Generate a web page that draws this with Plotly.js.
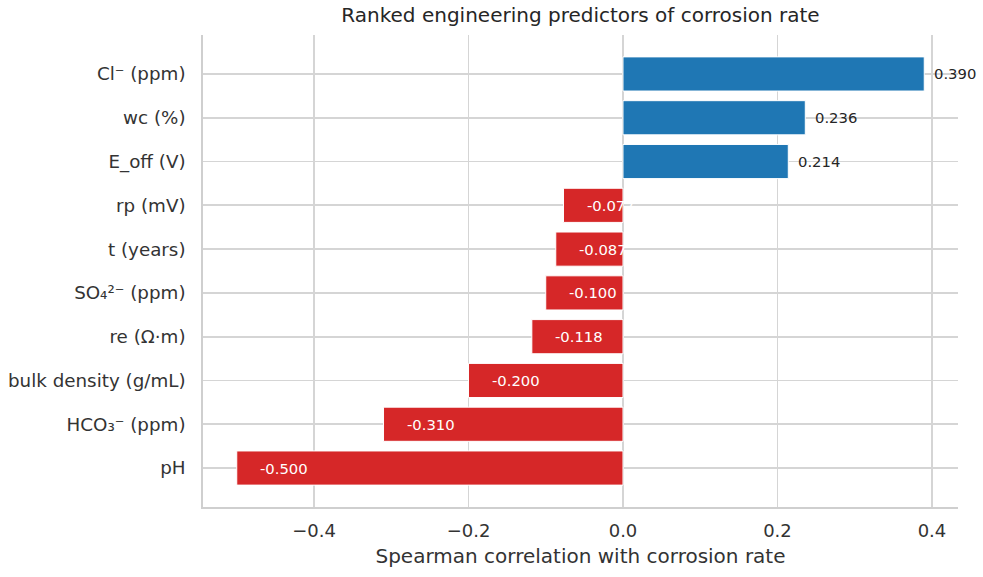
<!DOCTYPE html>
<html>
<head>
<meta charset="utf-8">
<script src="https://cdn.plot.ly/plotly-3.0.1.min.js"></script>
<style>html,body{margin:0;padding:0;background:#fff;}#chart{width:983px;height:577px;}</style>
</head>
<body>
<div id="chart"></div>
<script>
// Bottom-to-top order (pH at bottom)
const predictors = ["pH", "HCO₃⁻ (ppm)", "bulk density (g/mL)", "re (Ω·m)", "SO₄²⁻ (ppm)", "t (years)", "rp (mV)", "E_off (V)", "wc (%)", "Cl⁻ (ppm)"];
const correlations = [-0.500, -0.310, -0.200, -0.118, -0.100, -0.087, -0.077, 0.214, 0.236, 0.390];
const xTickVals = [-0.4, -0.2, 0.0, 0.2, 0.4];
const xTickText = ["−0.4", "−0.2", "0.0", "0.2", "0.4"];

const colors = correlations.map(v => v >= 0 ? "#1f77b4" : "#d62728");
const FONT = "DejaVu Sans, sans-serif";

const trace = {
  type: "bar",
  orientation: "h",
  x: correlations,
  y: predictors,
  width: 0.78,
  marker: {color: colors, line: {color: "#ffffff", width: 1}},
  hoverinfo: "x+y"
};

const annotations = correlations.map((v, i) => ({
  x: v >= 0 ? v + 0.01 : v + 0.028,
  y: predictors[i],
  xref: "x", yref: "y",
  text: v.toFixed(3),
  showarrow: false,
  xanchor: "left",
  yanchor: "middle",
  font: {family: FONT, size: 14.8, color: v >= 0 ? "#262626" : "#ffffff"}
}));

const layout = {
  width: 983, height: 577,
  margin: {l: 203, r: 25, t: 35, b: 70},
  paper_bgcolor: "#ffffff",
  plot_bgcolor: "#ffffff",
  font: {family: FONT, color: "#333333", size: 18},
  showlegend: false,
  title: {
    text: "Ranked engineering predictors of corrosion rate",
    x: 0.5, xref: "paper", xanchor: "center",
    y: 1, yref: "container", yanchor: "top", pad: {t: 8},
    font: {family: FONT, size: 20, color: "#262626"}
  },
  xaxis: {
    range: [-0.5437, 0.4337],
    tickvals: xTickVals,
    ticktext: xTickText,
    showgrid: true, gridcolor: "#d5d5d5", gridwidth: 1.8,
    zeroline: false,
    showline: true, linecolor: "#cfcfcf", linewidth: 1.8,
    ticks: "", ticklabelstandoff: 7,
    tickfont: {family: FONT, size: 18, color: "#333333"},
    title: {text: "Spearman correlation with corrosion rate", standoff: 8,
            font: {family: FONT, size: 20, color: "#333333"}}
  },
  yaxis: {
    type: "category",
    range: [-0.89, 9.89],
    showgrid: true, gridcolor: "#d5d5d5", gridwidth: 1.8,
    zeroline: false,
    showline: true, linecolor: "#cfcfcf", linewidth: 1.8,
    ticks: "", ticklabelstandoff: 12,
    tickfont: {family: FONT, size: 18.3, color: "#333333"}
  },
  annotations: annotations
};

Plotly.newPlot("chart", [trace], layout, {displayModeBar: false, staticPlot: true});
</script>
</body>
</html>
